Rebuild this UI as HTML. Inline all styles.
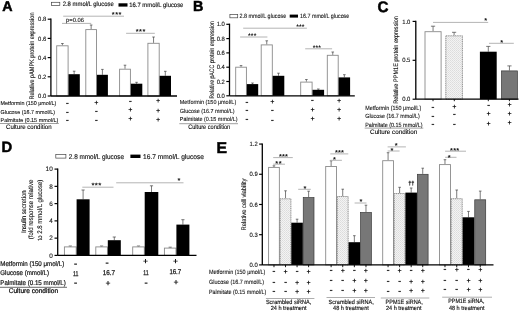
<!DOCTYPE html>
<html><head><meta charset="utf-8"><title>Figure</title>
<style>html,body{margin:0;padding:0;background:#fff;width:520px;height:312px;overflow:hidden}svg{display:block}</style>
</head><body>
<svg text-rendering="geometricPrecision" width="520" height="312" viewBox="0 0 520 312" font-family='"Liberation Sans", sans-serif' fill="#111">
<defs><pattern id="dots" width="2" height="2" patternUnits="userSpaceOnUse"><rect width="2" height="2" fill="#f3f3f3"/><rect width="1" height="1" fill="#dcdcdc"/><rect x="1" y="1" width="1" height="1" fill="#e2e2e2"/></pattern></defs>
<rect width="520" height="312" fill="#fff"/>
<text x="2.2" y="10.8" font-size="14.25" font-weight="bold" fill="#000" stroke="#000" stroke-width="0.5">A</text>
<rect x="51.6" y="2.3" width="8.2" height="3.3" fill="#fff" stroke="#444" stroke-width="0.7"/>
<text x="62.7" y="5.71" font-size="6.3" textLength="51" lengthAdjust="spacingAndGlyphs" stroke="#111" stroke-width="0.14">2.8 mmol/L glucose</text>
<rect x="118.5" y="3.3" width="9" height="3.3" fill="#000"/>
<text x="129.2" y="6.5" font-size="6.3" textLength="54.2" lengthAdjust="spacingAndGlyphs" stroke="#111" stroke-width="0.14">16.7 mmol/L glucose</text>
<line x1="50.9" y1="18.55" x2="50.9" y2="96" stroke="#000" stroke-width="1.3"/>
<line x1="47.7" y1="19.2" x2="50.9" y2="19.2" stroke="#000" stroke-width="1.17"/>
<text x="46.3" y="21.37" font-size="6.2" text-anchor="end" textLength="8.19" lengthAdjust="spacingAndGlyphs" stroke="#111" stroke-width="0.1">0.8</text>
<line x1="47.7" y1="38.4" x2="50.9" y2="38.4" stroke="#000" stroke-width="1.17"/>
<text x="46.3" y="40.57" font-size="6.2" text-anchor="end" textLength="8.19" lengthAdjust="spacingAndGlyphs" stroke="#111" stroke-width="0.1">0.6</text>
<line x1="47.7" y1="57.6" x2="50.9" y2="57.6" stroke="#000" stroke-width="1.17"/>
<text x="46.3" y="59.77" font-size="6.2" text-anchor="end" textLength="8.19" lengthAdjust="spacingAndGlyphs" stroke="#111" stroke-width="0.1">0.4</text>
<line x1="47.7" y1="76.8" x2="50.9" y2="76.8" stroke="#000" stroke-width="1.17"/>
<text x="46.3" y="78.97" font-size="6.2" text-anchor="end" textLength="8.19" lengthAdjust="spacingAndGlyphs" stroke="#111" stroke-width="0.1">0.2</text>
<line x1="47.7" y1="96" x2="50.9" y2="96" stroke="#000" stroke-width="1.17"/>
<text x="46.3" y="98.17" font-size="6.2" text-anchor="end" textLength="8.19" lengthAdjust="spacingAndGlyphs" stroke="#111" stroke-width="0.1">0.0</text>
<text transform="translate(33.58,56) rotate(-90)" font-size="6.5" text-anchor="middle" textLength="87" lengthAdjust="spacingAndGlyphs" stroke="#111" stroke-width="0.1">Relative pAMPK protein expression</text>
<line x1="62.4" y1="45.4" x2="62.4" y2="43.5" stroke="#444" stroke-width="0.7"/>
<line x1="61.1" y1="43.5" x2="63.7" y2="43.5" stroke="#444" stroke-width="0.7"/>
<rect x="56.7" y="45.8" width="11.4" height="50.2" fill="#ffffff" stroke="#8a8a8a" stroke-width="0.9"/>
<line x1="74.15" y1="74.2" x2="74.15" y2="71.2" stroke="#444" stroke-width="0.7"/>
<line x1="72.85" y1="71.2" x2="75.45" y2="71.2" stroke="#444" stroke-width="0.7"/>
<rect x="68.5" y="74.2" width="11.3" height="21.8" fill="#000000"/>
<line x1="91.15" y1="29.2" x2="91.15" y2="25" stroke="#444" stroke-width="0.7"/>
<line x1="89.85" y1="25" x2="92.45" y2="25" stroke="#444" stroke-width="0.7"/>
<rect x="85.8" y="29.6" width="10.7" height="66.4" fill="#ffffff" stroke="#8a8a8a" stroke-width="0.9"/>
<line x1="102.4" y1="74.8" x2="102.4" y2="69.4" stroke="#444" stroke-width="0.7"/>
<line x1="101.1" y1="69.4" x2="103.7" y2="69.4" stroke="#444" stroke-width="0.7"/>
<rect x="96.9" y="74.8" width="11" height="21.2" fill="#000000"/>
<line x1="125" y1="68.8" x2="125" y2="65.2" stroke="#444" stroke-width="0.7"/>
<line x1="123.7" y1="65.2" x2="126.3" y2="65.2" stroke="#444" stroke-width="0.7"/>
<rect x="119.6" y="69.2" width="10.8" height="26.8" fill="#ffffff" stroke="#8a8a8a" stroke-width="0.9"/>
<line x1="136.55" y1="83.7" x2="136.55" y2="82.3" stroke="#444" stroke-width="0.7"/>
<line x1="135.25" y1="82.3" x2="137.85" y2="82.3" stroke="#444" stroke-width="0.7"/>
<rect x="130.8" y="83.7" width="11.5" height="12.3" fill="#000000"/>
<line x1="153.55" y1="42.9" x2="153.55" y2="37" stroke="#444" stroke-width="0.7"/>
<line x1="152.25" y1="37" x2="154.85" y2="37" stroke="#444" stroke-width="0.7"/>
<rect x="147.9" y="43.3" width="11.3" height="52.7" fill="#ffffff" stroke="#8a8a8a" stroke-width="0.9"/>
<line x1="165.3" y1="75.8" x2="165.3" y2="71.3" stroke="#444" stroke-width="0.7"/>
<line x1="164" y1="71.3" x2="166.6" y2="71.3" stroke="#444" stroke-width="0.7"/>
<rect x="159.6" y="75.8" width="11.4" height="20.2" fill="#000000"/>
<line x1="50.9" y1="96" x2="177" y2="96" stroke="#000" stroke-width="1.3"/>
<line x1="63.2" y1="16.2" x2="124" y2="16.2" stroke="#b4b4b4" stroke-width="1"/>
<text x="116.6" y="17.48" font-size="7.4" font-weight="bold" text-anchor="middle" fill="#111" textLength="9.6">***</text>
<line x1="62" y1="23.4" x2="91.2" y2="23.4" stroke="#aaa" stroke-width="0.9"/>
<text x="66" y="22.37" font-size="5.9" textLength="18" lengthAdjust="spacingAndGlyphs" stroke="#111" stroke-width="0.1">p=0.06</text>
<line x1="126.1" y1="33.3" x2="154.8" y2="33.3" stroke="#b4b4b4" stroke-width="1"/>
<text x="140.5" y="34.38" font-size="7.4" font-weight="bold" text-anchor="middle" fill="#111" textLength="9.75">***</text>
<text x="0.5" y="105.26" font-size="5.6" textLength="55.7" lengthAdjust="spacingAndGlyphs" stroke="#111" stroke-width="0.1">Metformin (150 μmol/L)</text>
<text x="0.5" y="113.96" font-size="5.6" textLength="54.5" lengthAdjust="spacingAndGlyphs" stroke="#111" stroke-width="0.1">Glucose (16.7 mmol/L)</text>
<text x="0.5" y="122.26" font-size="5.6" textLength="57.8" lengthAdjust="spacingAndGlyphs" stroke="#111" stroke-width="0.1">Palmitate (0.15 mmol/L)</text>
<line x1="0" y1="123.5" x2="58.8" y2="123.5" stroke="#777" stroke-width="0.7"/>
<text x="6" y="129.14" font-size="6.4" fill="#000" textLength="45.6" lengthAdjust="spacingAndGlyphs" stroke="#000" stroke-width="0.1">Culture condition</text>
<text x="67.4" y="105.85" font-size="9.8" font-weight="bold" text-anchor="middle" fill="#333">-</text>
<text x="67.4" y="114.75" font-size="9.8" font-weight="bold" text-anchor="middle" fill="#333">-</text>
<text x="67.4" y="122.85" font-size="9.8" font-weight="bold" text-anchor="middle" fill="#333">-</text>
<text x="96.4" y="104.68" font-size="7.2" font-weight="bold" text-anchor="middle" fill="#111">+</text>
<text x="96.4" y="113.75" font-size="9.8" font-weight="bold" text-anchor="middle" fill="#333">-</text>
<text x="96.4" y="123.25" font-size="9.8" font-weight="bold" text-anchor="middle" fill="#333">-</text>
<text x="130.4" y="103.75" font-size="9.8" font-weight="bold" text-anchor="middle" fill="#333">-</text>
<text x="130.4" y="112.08" font-size="7.2" font-weight="bold" text-anchor="middle" fill="#111">+</text>
<text x="130.4" y="121.18" font-size="7.2" font-weight="bold" text-anchor="middle" fill="#111">+</text>
<text x="158" y="103.18" font-size="7.2" font-weight="bold" text-anchor="middle" fill="#111">+</text>
<text x="158" y="113.18" font-size="7.2" font-weight="bold" text-anchor="middle" fill="#111">+</text>
<text x="158" y="121.58" font-size="7.2" font-weight="bold" text-anchor="middle" fill="#111">+</text>
<text x="193" y="10.8" font-size="14.39" font-weight="bold" fill="#000" stroke="#000" stroke-width="0.5">B</text>
<rect x="229.9" y="14.6" width="7.8" height="3.2" fill="#fff" stroke="#444" stroke-width="0.7"/>
<text x="239.5" y="18.37" font-size="6.2" textLength="46.8" lengthAdjust="spacingAndGlyphs" stroke="#111" stroke-width="0.1">2.8 mmol/L glucose</text>
<rect x="289.7" y="14.6" width="8.3" height="3" fill="#000"/>
<text x="300" y="18.37" font-size="6.2" textLength="49.3" lengthAdjust="spacingAndGlyphs" stroke="#111" stroke-width="0.1">16.7 mmol/L glucose</text>
<line x1="229.5" y1="23.65" x2="229.5" y2="95.8" stroke="#000" stroke-width="1.3"/>
<line x1="226.3" y1="24.3" x2="229.5" y2="24.3" stroke="#000" stroke-width="1.17"/>
<text x="224.9" y="26.47" font-size="6.2" text-anchor="end" textLength="8.19" lengthAdjust="spacingAndGlyphs" stroke="#111" stroke-width="0.1">1.0</text>
<line x1="226.3" y1="38.6" x2="229.5" y2="38.6" stroke="#000" stroke-width="1.17"/>
<text x="224.9" y="40.77" font-size="6.2" text-anchor="end" textLength="8.19" lengthAdjust="spacingAndGlyphs" stroke="#111" stroke-width="0.1">0.8</text>
<line x1="226.3" y1="52.9" x2="229.5" y2="52.9" stroke="#000" stroke-width="1.17"/>
<text x="224.9" y="55.07" font-size="6.2" text-anchor="end" textLength="8.19" lengthAdjust="spacingAndGlyphs" stroke="#111" stroke-width="0.1">0.6</text>
<line x1="226.3" y1="67.2" x2="229.5" y2="67.2" stroke="#000" stroke-width="1.17"/>
<text x="224.9" y="69.37" font-size="6.2" text-anchor="end" textLength="8.19" lengthAdjust="spacingAndGlyphs" stroke="#111" stroke-width="0.1">0.4</text>
<line x1="226.3" y1="81.5" x2="229.5" y2="81.5" stroke="#000" stroke-width="1.17"/>
<text x="224.9" y="83.67" font-size="6.2" text-anchor="end" textLength="8.19" lengthAdjust="spacingAndGlyphs" stroke="#111" stroke-width="0.1">0.2</text>
<line x1="226.3" y1="95.8" x2="229.5" y2="95.8" stroke="#000" stroke-width="1.17"/>
<text x="224.9" y="97.97" font-size="6.2" text-anchor="end" textLength="8.19" lengthAdjust="spacingAndGlyphs" stroke="#111" stroke-width="0.1">0.0</text>
<text transform="translate(213.88,59.9) rotate(-90)" font-size="6.5" text-anchor="middle" textLength="77.5" lengthAdjust="spacingAndGlyphs" stroke="#111" stroke-width="0.1">Relative pACC protein expression</text>
<line x1="241.05" y1="66.8" x2="241.05" y2="65.6" stroke="#444" stroke-width="0.7"/>
<line x1="239.75" y1="65.6" x2="242.35" y2="65.6" stroke="#444" stroke-width="0.7"/>
<rect x="235.7" y="67.2" width="10.7" height="28.6" fill="#ffffff" stroke="#8a8a8a" stroke-width="0.9"/>
<line x1="252.5" y1="84.1" x2="252.5" y2="83" stroke="#444" stroke-width="0.7"/>
<line x1="251.2" y1="83" x2="253.8" y2="83" stroke="#444" stroke-width="0.7"/>
<rect x="246.8" y="84.1" width="11.4" height="11.7" fill="#000000"/>
<line x1="266.75" y1="44.5" x2="266.75" y2="40.8" stroke="#444" stroke-width="0.7"/>
<line x1="265.45" y1="40.8" x2="268.05" y2="40.8" stroke="#444" stroke-width="0.7"/>
<rect x="261.2" y="44.9" width="11.1" height="50.9" fill="#ffffff" stroke="#8a8a8a" stroke-width="0.9"/>
<line x1="278.5" y1="75.8" x2="278.5" y2="73.2" stroke="#444" stroke-width="0.7"/>
<line x1="277.2" y1="73.2" x2="279.8" y2="73.2" stroke="#444" stroke-width="0.7"/>
<rect x="272.7" y="75.8" width="11.6" height="20" fill="#000000"/>
<line x1="306.4" y1="81.7" x2="306.4" y2="79.5" stroke="#444" stroke-width="0.7"/>
<line x1="305.1" y1="79.5" x2="307.7" y2="79.5" stroke="#444" stroke-width="0.7"/>
<rect x="300.7" y="82.1" width="11.4" height="13.7" fill="#ffffff" stroke="#8a8a8a" stroke-width="0.9"/>
<line x1="318.3" y1="89.8" x2="318.3" y2="89" stroke="#444" stroke-width="0.7"/>
<line x1="317" y1="89" x2="319.6" y2="89" stroke="#444" stroke-width="0.7"/>
<rect x="312.5" y="89.8" width="11.6" height="6" fill="#000000"/>
<line x1="332.75" y1="54.9" x2="332.75" y2="52" stroke="#444" stroke-width="0.7"/>
<line x1="331.45" y1="52" x2="334.05" y2="52" stroke="#444" stroke-width="0.7"/>
<rect x="327.3" y="55.3" width="10.9" height="40.5" fill="#ffffff" stroke="#8a8a8a" stroke-width="0.9"/>
<line x1="344.35" y1="77.4" x2="344.35" y2="74.7" stroke="#444" stroke-width="0.7"/>
<line x1="343.05" y1="74.7" x2="345.65" y2="74.7" stroke="#444" stroke-width="0.7"/>
<rect x="338.6" y="77.4" width="11.5" height="18.4" fill="#000000"/>
<line x1="229.5" y1="95.8" x2="354.8" y2="95.8" stroke="#000" stroke-width="1.3"/>
<line x1="243.2" y1="28.2" x2="306.9" y2="28.2" stroke="#b4b4b4" stroke-width="1"/>
<text x="300.4" y="29" font-size="6.8" font-weight="bold" text-anchor="middle" fill="#111" textLength="8.25">***</text>
<line x1="240.1" y1="37" x2="267.4" y2="37" stroke="#b4b4b4" stroke-width="1"/>
<text x="252.2" y="37.7" font-size="6.8" font-weight="bold" text-anchor="middle" fill="#111" textLength="8.25">***</text>
<line x1="305.2" y1="48.8" x2="332.1" y2="48.8" stroke="#b4b4b4" stroke-width="1"/>
<text x="316.8" y="49.5" font-size="6.8" font-weight="bold" text-anchor="middle" fill="#111" textLength="8.25">***</text>
<text x="179.8" y="104.27" font-size="5.9" textLength="56.4" lengthAdjust="spacingAndGlyphs" stroke="#111" stroke-width="0.1">Metformin (150 μmol/L)</text>
<text x="179.8" y="112.56" font-size="5.9" textLength="54.8" lengthAdjust="spacingAndGlyphs" stroke="#111" stroke-width="0.1">Glucose (16.7 mmol/L)</text>
<text x="179.8" y="120.66" font-size="5.9" textLength="57.7" lengthAdjust="spacingAndGlyphs" stroke="#111" stroke-width="0.1">Palmitate (0.15 mmol/L)</text>
<line x1="179.3" y1="123.7" x2="238" y2="123.7" stroke="#777" stroke-width="0.7"/>
<text x="188.2" y="128.94" font-size="6.4" fill="#000" textLength="42" lengthAdjust="spacingAndGlyphs" stroke="#000" stroke-width="0.1">Culture condition</text>
<text x="246.9" y="104.85" font-size="9.8" font-weight="bold" text-anchor="middle" fill="#333">-</text>
<text x="246.9" y="112.95" font-size="9.8" font-weight="bold" text-anchor="middle" fill="#333">-</text>
<text x="246.9" y="121.85" font-size="9.8" font-weight="bold" text-anchor="middle" fill="#333">-</text>
<text x="272.3" y="104.28" font-size="7.2" font-weight="bold" text-anchor="middle" fill="#111">+</text>
<text x="272.3" y="113.35" font-size="9.8" font-weight="bold" text-anchor="middle" fill="#333">-</text>
<text x="272.3" y="122.85" font-size="9.8" font-weight="bold" text-anchor="middle" fill="#333">-</text>
<text x="312.5" y="102.75" font-size="9.8" font-weight="bold" text-anchor="middle" fill="#333">-</text>
<text x="312.5" y="111.68" font-size="7.2" font-weight="bold" text-anchor="middle" fill="#111">+</text>
<text x="312.5" y="120.58" font-size="7.2" font-weight="bold" text-anchor="middle" fill="#111">+</text>
<text x="339.1" y="103.08" font-size="7.2" font-weight="bold" text-anchor="middle" fill="#111">+</text>
<text x="339.1" y="112.18" font-size="7.2" font-weight="bold" text-anchor="middle" fill="#111">+</text>
<text x="339.1" y="120.58" font-size="7.2" font-weight="bold" text-anchor="middle" fill="#111">+</text>
<text x="377.4" y="11.6" font-size="15.22" font-weight="bold" fill="#000" stroke="#000" stroke-width="0.5">C</text>
<line x1="415.8" y1="20.75" x2="415.8" y2="99.2" stroke="#000" stroke-width="1.3"/>
<line x1="412.6" y1="21.4" x2="415.8" y2="21.4" stroke="#000" stroke-width="1.17"/>
<text x="410.4" y="23.57" font-size="6.2" text-anchor="end" textLength="8.19" lengthAdjust="spacingAndGlyphs" stroke="#111" stroke-width="0.1">1.0</text>
<line x1="412.6" y1="60.3" x2="415.8" y2="60.3" stroke="#000" stroke-width="1.17"/>
<text x="410.4" y="62.47" font-size="6.2" text-anchor="end" textLength="8.19" lengthAdjust="spacingAndGlyphs" stroke="#111" stroke-width="0.1">0.5</text>
<line x1="412.6" y1="99.2" x2="415.8" y2="99.2" stroke="#000" stroke-width="1.17"/>
<text x="410.4" y="101.37" font-size="6.2" text-anchor="end" textLength="8.19" lengthAdjust="spacingAndGlyphs" stroke="#111" stroke-width="0.1">0.0</text>
<text transform="translate(398.27,59.9) rotate(-90)" font-size="6.5" text-anchor="middle" textLength="87.5" lengthAdjust="spacingAndGlyphs" stroke="#111" stroke-width="0.1">Relative PPM1E protein expression</text>
<line x1="433.05" y1="31.3" x2="433.05" y2="26.2" stroke="#444" stroke-width="0.7"/>
<line x1="430.95" y1="26.2" x2="435.15" y2="26.2" stroke="#444" stroke-width="0.7"/>
<rect x="425" y="31.7" width="16.1" height="67.5" fill="#ffffff" stroke="#8a8a8a" stroke-width="0.9"/>
<line x1="454.1" y1="35.4" x2="454.1" y2="32.3" stroke="#444" stroke-width="0.7"/>
<line x1="452" y1="32.3" x2="456.2" y2="32.3" stroke="#444" stroke-width="0.7"/>
<rect x="445.8" y="35.8" width="16.6" height="63.4" fill="url(#dots)" stroke="#666" stroke-width="0.7" stroke-dasharray="1.2 0.6"/>
<line x1="488.3" y1="51.7" x2="488.3" y2="46.4" stroke="#444" stroke-width="0.7"/>
<line x1="486.2" y1="46.4" x2="490.4" y2="46.4" stroke="#444" stroke-width="0.7"/>
<rect x="479.9" y="51.7" width="16.8" height="47.5" fill="#000000"/>
<line x1="509.45" y1="70.5" x2="509.45" y2="65.9" stroke="#444" stroke-width="0.7"/>
<line x1="507.35" y1="65.9" x2="511.55" y2="65.9" stroke="#444" stroke-width="0.7"/>
<rect x="501.5" y="70.9" width="15.9" height="28.3" fill="#777777" stroke="#3a3a3a" stroke-width="0.7"/>
<line x1="415.8" y1="99.2" x2="518.5" y2="99.2" stroke="#000" stroke-width="1.3"/>
<line x1="433" y1="99.2" x2="433" y2="101.2" stroke="#000" stroke-width="0.9"/>
<line x1="454.3" y1="99.2" x2="454.3" y2="101.2" stroke="#000" stroke-width="0.9"/>
<line x1="488.3" y1="99.2" x2="488.3" y2="101.2" stroke="#000" stroke-width="0.9"/>
<line x1="509.4" y1="99.2" x2="509.4" y2="101.2" stroke="#000" stroke-width="0.9"/>
<line x1="433" y1="22.4" x2="488.2" y2="22.4" stroke="#b4b4b4" stroke-width="1"/>
<text x="485.6" y="23.38" font-size="7.4" font-weight="bold" text-anchor="middle" fill="#111">*</text>
<line x1="489" y1="43.3" x2="513.8" y2="43.3" stroke="#b4b4b4" stroke-width="1"/>
<text x="501.8" y="44.98" font-size="7.4" font-weight="bold" text-anchor="middle" fill="#111">*</text>
<text x="365.2" y="109.6" font-size="6" textLength="56" lengthAdjust="spacingAndGlyphs" stroke="#111" stroke-width="0.1">Metformin (150 μmol/L)</text>
<text x="365.2" y="118" font-size="6" textLength="54.5" lengthAdjust="spacingAndGlyphs" stroke="#111" stroke-width="0.1">Glucose (16.7 mmol/L)</text>
<text x="365.2" y="126.7" font-size="6" textLength="57.5" lengthAdjust="spacingAndGlyphs" stroke="#111" stroke-width="0.1">Palmitate (0.15 mmol/L)</text>
<line x1="364.7" y1="128.1" x2="423.3" y2="128.1" stroke="#777" stroke-width="0.7"/>
<text x="370.1" y="133.84" font-size="6.4" fill="#000" textLength="47.1" lengthAdjust="spacingAndGlyphs" stroke="#000" stroke-width="0.1">Culture condition</text>
<text x="432.9" y="110.25" font-size="9.8" font-weight="bold" text-anchor="middle" fill="#333">-</text>
<text x="432.9" y="118.65" font-size="9.8" font-weight="bold" text-anchor="middle" fill="#333">-</text>
<text x="432.9" y="126.85" font-size="9.8" font-weight="bold" text-anchor="middle" fill="#333">-</text>
<text x="454.3" y="109.28" font-size="7.2" font-weight="bold" text-anchor="middle" fill="#111">+</text>
<text x="454.3" y="117.15" font-size="9.8" font-weight="bold" text-anchor="middle" fill="#333">-</text>
<text x="454.3" y="127.25" font-size="9.8" font-weight="bold" text-anchor="middle" fill="#333">-</text>
<text x="488.6" y="108.05" font-size="9.8" font-weight="bold" text-anchor="middle" fill="#333">-</text>
<text x="488.6" y="116.08" font-size="7.2" font-weight="bold" text-anchor="middle" fill="#111">+</text>
<text x="488.6" y="125.58" font-size="7.2" font-weight="bold" text-anchor="middle" fill="#111">+</text>
<text x="509.5" y="106.98" font-size="7.2" font-weight="bold" text-anchor="middle" fill="#111">+</text>
<text x="509.5" y="116.08" font-size="7.2" font-weight="bold" text-anchor="middle" fill="#111">+</text>
<text x="509.5" y="124.68" font-size="7.2" font-weight="bold" text-anchor="middle" fill="#111">+</text>
<text x="1.6" y="152.4" font-size="14.8" font-weight="bold" fill="#000" stroke="#000" stroke-width="0.5">D</text>
<rect x="55.8" y="154.6" width="10.1" height="3.5" fill="#fff" stroke="#444" stroke-width="0.7"/>
<text x="68.8" y="158.78" font-size="6.8" textLength="55.2" lengthAdjust="spacingAndGlyphs" stroke="#111" stroke-width="0.14">2.8 mmol/L glucose</text>
<rect x="130.4" y="154.6" width="10.1" height="3.4" fill="#000"/>
<text x="143.1" y="158.78" font-size="6.8" textLength="60.9" lengthAdjust="spacingAndGlyphs" stroke="#111" stroke-width="0.14">16.7 mmol/L glucose</text>
<line x1="57.7" y1="168.45" x2="57.7" y2="255.4" stroke="#000" stroke-width="1.3"/>
<line x1="54.5" y1="169.1" x2="57.7" y2="169.1" stroke="#000" stroke-width="1.17"/>
<text x="52.7" y="171.34" font-size="6.4" text-anchor="end" textLength="7.12" lengthAdjust="spacingAndGlyphs" stroke="#111" stroke-width="0.1">10</text>
<line x1="54.5" y1="186.36" x2="57.7" y2="186.36" stroke="#000" stroke-width="1.17"/>
<text x="52.7" y="188.6" font-size="6.4" text-anchor="end" textLength="3.56" lengthAdjust="spacingAndGlyphs" stroke="#111" stroke-width="0.1">8</text>
<line x1="54.5" y1="203.62" x2="57.7" y2="203.62" stroke="#000" stroke-width="1.17"/>
<text x="52.7" y="205.86" font-size="6.4" text-anchor="end" textLength="3.56" lengthAdjust="spacingAndGlyphs" stroke="#111" stroke-width="0.1">6</text>
<line x1="54.5" y1="220.88" x2="57.7" y2="220.88" stroke="#000" stroke-width="1.17"/>
<text x="52.7" y="223.12" font-size="6.4" text-anchor="end" textLength="3.56" lengthAdjust="spacingAndGlyphs" stroke="#111" stroke-width="0.1">4</text>
<line x1="54.5" y1="238.14" x2="57.7" y2="238.14" stroke="#000" stroke-width="1.17"/>
<text x="52.7" y="240.38" font-size="6.4" text-anchor="end" textLength="3.56" lengthAdjust="spacingAndGlyphs" stroke="#111" stroke-width="0.1">2</text>
<line x1="54.5" y1="255.4" x2="57.7" y2="255.4" stroke="#000" stroke-width="1.17"/>
<text x="52.7" y="257.64" font-size="6.4" text-anchor="end" textLength="3.56" lengthAdjust="spacingAndGlyphs" stroke="#111" stroke-width="0.1">0</text>
<text transform="translate(25.64,211.7) rotate(-90)" font-size="6.7" text-anchor="middle" textLength="42.5" lengthAdjust="spacingAndGlyphs" stroke="#111" stroke-width="0.1">Insulin secretion</text>
<text transform="translate(33.45,209.4) rotate(-90)" font-size="6.7" text-anchor="middle" textLength="59.5" lengthAdjust="spacingAndGlyphs" stroke="#111" stroke-width="0.1">(fold response relative</text>
<text transform="translate(41.74,210.1) rotate(-90)" font-size="6.7" text-anchor="middle" textLength="60.8" lengthAdjust="spacingAndGlyphs" stroke="#111" stroke-width="0.1">to 2.8 mmol/L glucose)</text>
<line x1="70.3" y1="246.5" x2="70.3" y2="246" stroke="#444" stroke-width="0.7"/>
<line x1="68.7" y1="246" x2="71.9" y2="246" stroke="#444" stroke-width="0.7"/>
<rect x="64.4" y="246.9" width="11.8" height="8.5" fill="#ffffff" stroke="#8a8a8a" stroke-width="0.9"/>
<line x1="83.1" y1="199.3" x2="83.1" y2="190" stroke="#444" stroke-width="0.7"/>
<line x1="81.5" y1="190" x2="84.7" y2="190" stroke="#444" stroke-width="0.7"/>
<rect x="76.6" y="199.3" width="13" height="56.1" fill="#000000"/>
<line x1="101.6" y1="246.5" x2="101.6" y2="246" stroke="#444" stroke-width="0.7"/>
<line x1="100" y1="246" x2="103.2" y2="246" stroke="#444" stroke-width="0.7"/>
<rect x="95.8" y="246.9" width="11.6" height="8.5" fill="#ffffff" stroke="#8a8a8a" stroke-width="0.9"/>
<line x1="114.3" y1="240.2" x2="114.3" y2="237" stroke="#444" stroke-width="0.7"/>
<line x1="112.7" y1="237" x2="115.9" y2="237" stroke="#444" stroke-width="0.7"/>
<rect x="107.8" y="240.2" width="13" height="15.2" fill="#000000"/>
<line x1="138.5" y1="246.5" x2="138.5" y2="246" stroke="#444" stroke-width="0.7"/>
<line x1="136.9" y1="246" x2="140.1" y2="246" stroke="#444" stroke-width="0.7"/>
<rect x="132.7" y="246.9" width="11.6" height="8.5" fill="#ffffff" stroke="#8a8a8a" stroke-width="0.9"/>
<line x1="151.5" y1="192" x2="151.5" y2="185.8" stroke="#444" stroke-width="0.7"/>
<line x1="149.9" y1="185.8" x2="153.1" y2="185.8" stroke="#444" stroke-width="0.7"/>
<rect x="144.7" y="192" width="13.6" height="63.4" fill="#000000"/>
<line x1="170.2" y1="247.7" x2="170.2" y2="247.2" stroke="#444" stroke-width="0.7"/>
<line x1="168.6" y1="247.2" x2="171.8" y2="247.2" stroke="#444" stroke-width="0.7"/>
<rect x="164.4" y="248.1" width="11.6" height="7.3" fill="#ffffff" stroke="#8a8a8a" stroke-width="0.9"/>
<line x1="182.9" y1="224.6" x2="182.9" y2="219.7" stroke="#444" stroke-width="0.7"/>
<line x1="181.3" y1="219.7" x2="184.5" y2="219.7" stroke="#444" stroke-width="0.7"/>
<rect x="176.4" y="224.6" width="13" height="30.8" fill="#000000"/>
<line x1="57.7" y1="255.4" x2="196.5" y2="255.4" stroke="#000" stroke-width="1.3"/>
<line x1="82.3" y1="187.2" x2="113.5" y2="187.2" stroke="#b4b4b4" stroke-width="1"/>
<text x="96.3" y="187.87" font-size="7.8" font-weight="bold" text-anchor="middle" fill="#111" textLength="9.75">***</text>
<line x1="116.2" y1="182.8" x2="183.5" y2="182.8" stroke="#b4b4b4" stroke-width="1"/>
<text x="179" y="183.48" font-size="7.4" font-weight="bold" text-anchor="middle" fill="#111">*</text>
<text x="0.3" y="266.18" font-size="6.8" textLength="63.9" lengthAdjust="spacingAndGlyphs" stroke="#111" stroke-width="0.2">Metformin (150 μmol/L)</text>
<text x="0.3" y="275.38" font-size="6.8" textLength="48.7" lengthAdjust="spacingAndGlyphs" stroke="#111" stroke-width="0.2">Glucose (mmol/L)</text>
<text x="0.3" y="285.28" font-size="6.8" textLength="65.5" lengthAdjust="spacingAndGlyphs" stroke="#111" stroke-width="0.2">Palmitate (0.15 mmol/L)</text>
<line x1="0" y1="287.3" x2="67" y2="287.3" stroke="#444" stroke-width="0.8"/>
<text x="8.7" y="293.18" font-size="6.8" fill="#000" textLength="49.4" lengthAdjust="spacingAndGlyphs" stroke="#000" stroke-width="0.2">Culture condition</text>
<text x="75.7" y="266.96" font-size="11" font-weight="bold" text-anchor="middle" fill="#333">-</text>
<text x="107.1" y="266.46" font-size="11" font-weight="bold" text-anchor="middle" fill="#333">-</text>
<text x="145.4" y="263.84" font-size="8.6" font-weight="bold" text-anchor="middle" fill="#111">+</text>
<text x="175.5" y="263.94" font-size="8.6" font-weight="bold" text-anchor="middle" fill="#111">+</text>
<text x="73" y="275.75" font-size="7" textLength="5.4" lengthAdjust="spacingAndGlyphs" stroke="#111" stroke-width="0.25">11</text>
<text x="102.8" y="274.85" font-size="7" textLength="12.2" lengthAdjust="spacingAndGlyphs" stroke="#111" stroke-width="0.25">16.7</text>
<text x="143.2" y="274.85" font-size="7" textLength="5.4" lengthAdjust="spacingAndGlyphs" stroke="#111" stroke-width="0.25">11</text>
<text x="169.4" y="274.35" font-size="7" textLength="11.7" lengthAdjust="spacingAndGlyphs" stroke="#111" stroke-width="0.25">16.7</text>
<text x="75.7" y="286.06" font-size="11" font-weight="bold" text-anchor="middle" fill="#333">-</text>
<text x="108" y="285.84" font-size="8.6" font-weight="bold" text-anchor="middle" fill="#111">+</text>
<text x="146.2" y="286.06" font-size="11" font-weight="bold" text-anchor="middle" fill="#333">-</text>
<text x="175.9" y="285.14" font-size="8.6" font-weight="bold" text-anchor="middle" fill="#111">+</text>
<text x="216.5" y="153" font-size="15.78" font-weight="bold" fill="#000" stroke="#000" stroke-width="0.5">E</text>
<line x1="262.3" y1="143.41" x2="262.3" y2="264.9" stroke="#000" stroke-width="1.3"/>
<line x1="259.1" y1="144.06" x2="262.3" y2="144.06" stroke="#000" stroke-width="1.17"/>
<text x="257.7" y="146.23" font-size="6.2" text-anchor="end" textLength="8.19" lengthAdjust="spacingAndGlyphs" stroke="#111" stroke-width="0.1">1.2</text>
<line x1="259.1" y1="174.27" x2="262.3" y2="174.27" stroke="#000" stroke-width="1.17"/>
<text x="257.7" y="176.44" font-size="6.2" text-anchor="end" textLength="8.19" lengthAdjust="spacingAndGlyphs" stroke="#111" stroke-width="0.1">0.9</text>
<line x1="259.1" y1="204.48" x2="262.3" y2="204.48" stroke="#000" stroke-width="1.17"/>
<text x="257.7" y="206.65" font-size="6.2" text-anchor="end" textLength="8.19" lengthAdjust="spacingAndGlyphs" stroke="#111" stroke-width="0.1">0.6</text>
<line x1="259.1" y1="234.69" x2="262.3" y2="234.69" stroke="#000" stroke-width="1.17"/>
<text x="257.7" y="236.86" font-size="6.2" text-anchor="end" textLength="8.19" lengthAdjust="spacingAndGlyphs" stroke="#111" stroke-width="0.1">0.3</text>
<line x1="259.1" y1="264.9" x2="262.3" y2="264.9" stroke="#000" stroke-width="1.17"/>
<text x="257.7" y="267.07" font-size="6.2" text-anchor="end" textLength="8.19" lengthAdjust="spacingAndGlyphs" stroke="#111" stroke-width="0.1">0.0</text>
<text transform="translate(246.08,204.5) rotate(-90)" font-size="6.5" text-anchor="middle" textLength="52" lengthAdjust="spacingAndGlyphs" stroke="#111" stroke-width="0.1">Relative cell viability</text>
<line x1="273.98" y1="167" x2="273.98" y2="165.8" stroke="#444" stroke-width="0.7"/>
<line x1="272.68" y1="165.8" x2="275.28" y2="165.8" stroke="#444" stroke-width="0.7"/>
<rect x="268.6" y="167.4" width="10.75" height="97.5" fill="#ffffff" stroke="#8a8a8a" stroke-width="0.9"/>
<line x1="285.52" y1="198.4" x2="285.52" y2="190.8" stroke="#444" stroke-width="0.7"/>
<line x1="284.22" y1="190.8" x2="286.82" y2="190.8" stroke="#444" stroke-width="0.7"/>
<rect x="280.15" y="198.8" width="10.75" height="66.1" fill="url(#dots)" stroke="#666" stroke-width="0.7" stroke-dasharray="1.2 0.6"/>
<line x1="297.08" y1="222.7" x2="297.08" y2="219.2" stroke="#444" stroke-width="0.7"/>
<line x1="295.78" y1="219.2" x2="298.38" y2="219.2" stroke="#444" stroke-width="0.7"/>
<rect x="291.3" y="222.7" width="11.55" height="42.2" fill="#000000"/>
<line x1="308.62" y1="197.2" x2="308.62" y2="191.2" stroke="#444" stroke-width="0.7"/>
<line x1="307.32" y1="191.2" x2="309.93" y2="191.2" stroke="#444" stroke-width="0.7"/>
<rect x="303.25" y="197.6" width="10.75" height="67.3" fill="#777777" stroke="#3a3a3a" stroke-width="0.7"/>
<line x1="331.11" y1="166.1" x2="331.11" y2="160.8" stroke="#444" stroke-width="0.7"/>
<line x1="329.81" y1="160.8" x2="332.41" y2="160.8" stroke="#444" stroke-width="0.7"/>
<rect x="325.7" y="166.5" width="10.82" height="98.4" fill="#ffffff" stroke="#8a8a8a" stroke-width="0.9"/>
<line x1="342.73" y1="196.1" x2="342.73" y2="189.2" stroke="#444" stroke-width="0.7"/>
<line x1="341.43" y1="189.2" x2="344.03" y2="189.2" stroke="#444" stroke-width="0.7"/>
<rect x="337.32" y="196.5" width="10.82" height="68.4" fill="url(#dots)" stroke="#666" stroke-width="0.7" stroke-dasharray="1.2 0.6"/>
<line x1="354.35" y1="242.2" x2="354.35" y2="235.7" stroke="#444" stroke-width="0.7"/>
<line x1="353.05" y1="235.7" x2="355.65" y2="235.7" stroke="#444" stroke-width="0.7"/>
<rect x="348.54" y="242.2" width="11.62" height="22.7" fill="#000000"/>
<line x1="365.97" y1="212.1" x2="365.97" y2="205.2" stroke="#444" stroke-width="0.7"/>
<line x1="364.67" y1="205.2" x2="367.27" y2="205.2" stroke="#444" stroke-width="0.7"/>
<rect x="360.56" y="212.5" width="10.82" height="52.4" fill="#777777" stroke="#3a3a3a" stroke-width="0.7"/>
<line x1="388.08" y1="160.3" x2="388.08" y2="152.7" stroke="#444" stroke-width="0.7"/>
<line x1="386.78" y1="152.7" x2="389.38" y2="152.7" stroke="#444" stroke-width="0.7"/>
<rect x="382.7" y="160.7" width="10.75" height="104.2" fill="#ffffff" stroke="#8a8a8a" stroke-width="0.9"/>
<line x1="399.62" y1="193.1" x2="399.62" y2="187.3" stroke="#444" stroke-width="0.7"/>
<line x1="398.32" y1="187.3" x2="400.93" y2="187.3" stroke="#444" stroke-width="0.7"/>
<rect x="394.25" y="193.5" width="10.75" height="71.4" fill="url(#dots)" stroke="#666" stroke-width="0.7" stroke-dasharray="1.2 0.6"/>
<line x1="411.18" y1="192.6" x2="411.18" y2="188" stroke="#444" stroke-width="0.7"/>
<line x1="409.88" y1="188" x2="412.48" y2="188" stroke="#444" stroke-width="0.7"/>
<rect x="405.4" y="192.6" width="11.55" height="72.3" fill="#000000"/>
<line x1="422.73" y1="173.9" x2="422.73" y2="168.2" stroke="#444" stroke-width="0.7"/>
<line x1="421.43" y1="168.2" x2="424.03" y2="168.2" stroke="#444" stroke-width="0.7"/>
<rect x="417.35" y="174.3" width="10.75" height="90.6" fill="#777777" stroke="#3a3a3a" stroke-width="0.7"/>
<line x1="444.98" y1="164.2" x2="444.98" y2="159.7" stroke="#444" stroke-width="0.7"/>
<line x1="443.68" y1="159.7" x2="446.28" y2="159.7" stroke="#444" stroke-width="0.7"/>
<rect x="439.5" y="164.6" width="10.95" height="100.3" fill="#ffffff" stroke="#8a8a8a" stroke-width="0.9"/>
<line x1="456.73" y1="198.3" x2="456.73" y2="190" stroke="#444" stroke-width="0.7"/>
<line x1="455.43" y1="190" x2="458.03" y2="190" stroke="#444" stroke-width="0.7"/>
<rect x="451.25" y="198.7" width="10.95" height="66.2" fill="url(#dots)" stroke="#666" stroke-width="0.7" stroke-dasharray="1.2 0.6"/>
<line x1="468.48" y1="217.3" x2="468.48" y2="211.4" stroke="#444" stroke-width="0.7"/>
<line x1="467.18" y1="211.4" x2="469.78" y2="211.4" stroke="#444" stroke-width="0.7"/>
<rect x="462.6" y="217.3" width="11.75" height="47.6" fill="#000000"/>
<line x1="480.23" y1="199.4" x2="480.23" y2="191.1" stroke="#444" stroke-width="0.7"/>
<line x1="478.93" y1="191.1" x2="481.53" y2="191.1" stroke="#444" stroke-width="0.7"/>
<rect x="474.75" y="199.8" width="10.95" height="65.1" fill="#777777" stroke="#3a3a3a" stroke-width="0.7"/>
<line x1="262.3" y1="264.9" x2="493.5" y2="264.9" stroke="#000" stroke-width="1.3"/>
<line x1="273.97" y1="264.9" x2="273.97" y2="267.2" stroke="#000" stroke-width="0.9"/>
<line x1="285.52" y1="264.9" x2="285.52" y2="267.2" stroke="#000" stroke-width="0.9"/>
<line x1="297.07" y1="264.9" x2="297.07" y2="267.2" stroke="#000" stroke-width="0.9"/>
<line x1="308.62" y1="264.9" x2="308.62" y2="267.2" stroke="#000" stroke-width="0.9"/>
<line x1="331.11" y1="264.9" x2="331.11" y2="267.2" stroke="#000" stroke-width="0.9"/>
<line x1="342.73" y1="264.9" x2="342.73" y2="267.2" stroke="#000" stroke-width="0.9"/>
<line x1="354.35" y1="264.9" x2="354.35" y2="267.2" stroke="#000" stroke-width="0.9"/>
<line x1="365.97" y1="264.9" x2="365.97" y2="267.2" stroke="#000" stroke-width="0.9"/>
<line x1="388.07" y1="264.9" x2="388.07" y2="267.2" stroke="#000" stroke-width="0.9"/>
<line x1="399.62" y1="264.9" x2="399.62" y2="267.2" stroke="#000" stroke-width="0.9"/>
<line x1="411.18" y1="264.9" x2="411.18" y2="267.2" stroke="#000" stroke-width="0.9"/>
<line x1="422.73" y1="264.9" x2="422.73" y2="267.2" stroke="#000" stroke-width="0.9"/>
<line x1="444.98" y1="264.9" x2="444.98" y2="267.2" stroke="#000" stroke-width="0.9"/>
<line x1="456.73" y1="264.9" x2="456.73" y2="267.2" stroke="#000" stroke-width="0.9"/>
<line x1="468.48" y1="264.9" x2="468.48" y2="267.2" stroke="#000" stroke-width="0.9"/>
<line x1="480.23" y1="264.9" x2="480.23" y2="267.2" stroke="#000" stroke-width="0.9"/>
<line x1="273.2" y1="157.6" x2="292.8" y2="157.6" stroke="#b4b4b4" stroke-width="1"/>
<text x="283.5" y="158.88" font-size="7.4" font-weight="bold" text-anchor="middle" fill="#111" textLength="8.85">***</text>
<line x1="273.2" y1="164.2" x2="285" y2="164.2" stroke="#b4b4b4" stroke-width="1"/>
<text x="278.5" y="166.08" font-size="7.4" font-weight="bold" text-anchor="middle" fill="#111" textLength="6.4">**</text>
<line x1="298.2" y1="189.3" x2="310.8" y2="189.3" stroke="#b4b4b4" stroke-width="1"/>
<text x="304.9" y="190.68" font-size="7.4" font-weight="bold" text-anchor="middle" fill="#111">*</text>
<line x1="330.3" y1="153.9" x2="348.3" y2="153.9" stroke="#b4b4b4" stroke-width="1"/>
<text x="339.4" y="154.88" font-size="7.4" font-weight="bold" text-anchor="middle" fill="#111" textLength="8.85">***</text>
<line x1="330.3" y1="160.3" x2="341.9" y2="160.3" stroke="#b4b4b4" stroke-width="1"/>
<text x="334.5" y="162.08" font-size="7.4" font-weight="bold" text-anchor="middle" fill="#111">*</text>
<line x1="354.6" y1="203" x2="366.5" y2="203" stroke="#b4b4b4" stroke-width="1"/>
<text x="361" y="204.08" font-size="7.4" font-weight="bold" text-anchor="middle" fill="#111">*</text>
<line x1="387.6" y1="146.9" x2="405.9" y2="146.9" stroke="#b4b4b4" stroke-width="1"/>
<text x="396.2" y="148.48" font-size="7.4" font-weight="bold" text-anchor="middle" fill="#111">*</text>
<line x1="387.6" y1="151" x2="399.6" y2="151" stroke="#b4b4b4" stroke-width="1"/>
<text x="392" y="153.48" font-size="7.4" font-weight="bold" text-anchor="middle" fill="#111">*</text>
<text x="411.3" y="185.45" font-size="5.6" font-weight="bold" text-anchor="middle" stroke="#111" stroke-width="0.2">††</text>
<line x1="445.1" y1="151.2" x2="466" y2="151.2" stroke="#b4b4b4" stroke-width="1"/>
<text x="454.6" y="153.08" font-size="7.4" font-weight="bold" text-anchor="middle" fill="#111" textLength="9.3">***</text>
<line x1="445.1" y1="157.3" x2="456.5" y2="157.3" stroke="#b4b4b4" stroke-width="1"/>
<text x="449.1" y="159.68" font-size="7.4" font-weight="bold" text-anchor="middle" fill="#111">*</text>
<text x="209" y="274.27" font-size="6.2" textLength="56.4" lengthAdjust="spacingAndGlyphs" stroke="#111" stroke-width="0.1">Metformin (150 μmol/L)</text>
<text x="209" y="283.97" font-size="6.2" textLength="55" lengthAdjust="spacingAndGlyphs" stroke="#111" stroke-width="0.1">Glucose (16.7 mmol/L)</text>
<text x="209" y="293.87" font-size="6.2" textLength="57.3" lengthAdjust="spacingAndGlyphs" stroke="#111" stroke-width="0.1">Palmitate (0.15 mmol/L)</text>
<text x="273.97" y="274.25" font-size="9.8" font-weight="bold" text-anchor="middle" fill="#333">-</text>
<text x="285.52" y="274.08" font-size="7.2" font-weight="bold" text-anchor="middle" fill="#111">+</text>
<text x="297.07" y="274.25" font-size="9.8" font-weight="bold" text-anchor="middle" fill="#333">-</text>
<text x="308.62" y="274.08" font-size="7.2" font-weight="bold" text-anchor="middle" fill="#111">+</text>
<text x="273.97" y="284.85" font-size="9.8" font-weight="bold" text-anchor="middle" fill="#333">-</text>
<text x="285.52" y="284.85" font-size="9.8" font-weight="bold" text-anchor="middle" fill="#333">-</text>
<text x="297.07" y="284.68" font-size="7.2" font-weight="bold" text-anchor="middle" fill="#111">+</text>
<text x="308.62" y="284.68" font-size="7.2" font-weight="bold" text-anchor="middle" fill="#111">+</text>
<text x="273.97" y="294.25" font-size="9.8" font-weight="bold" text-anchor="middle" fill="#333">-</text>
<text x="285.52" y="294.25" font-size="9.8" font-weight="bold" text-anchor="middle" fill="#333">-</text>
<text x="297.07" y="294.08" font-size="7.2" font-weight="bold" text-anchor="middle" fill="#111">+</text>
<text x="308.62" y="294.08" font-size="7.2" font-weight="bold" text-anchor="middle" fill="#111">+</text>
<text x="331.11" y="273.35" font-size="9.8" font-weight="bold" text-anchor="middle" fill="#333">-</text>
<text x="342.73" y="273.18" font-size="7.2" font-weight="bold" text-anchor="middle" fill="#111">+</text>
<text x="354.35" y="273.35" font-size="9.8" font-weight="bold" text-anchor="middle" fill="#333">-</text>
<text x="365.97" y="273.18" font-size="7.2" font-weight="bold" text-anchor="middle" fill="#111">+</text>
<text x="331.11" y="283.05" font-size="9.8" font-weight="bold" text-anchor="middle" fill="#333">-</text>
<text x="342.73" y="283.05" font-size="9.8" font-weight="bold" text-anchor="middle" fill="#333">-</text>
<text x="354.35" y="282.88" font-size="7.2" font-weight="bold" text-anchor="middle" fill="#111">+</text>
<text x="365.97" y="282.88" font-size="7.2" font-weight="bold" text-anchor="middle" fill="#111">+</text>
<text x="331.11" y="292.75" font-size="9.8" font-weight="bold" text-anchor="middle" fill="#333">-</text>
<text x="342.73" y="292.75" font-size="9.8" font-weight="bold" text-anchor="middle" fill="#333">-</text>
<text x="354.35" y="292.58" font-size="7.2" font-weight="bold" text-anchor="middle" fill="#111">+</text>
<text x="365.97" y="292.58" font-size="7.2" font-weight="bold" text-anchor="middle" fill="#111">+</text>
<text x="388.07" y="273.45" font-size="9.8" font-weight="bold" text-anchor="middle" fill="#333">-</text>
<text x="399.62" y="273.28" font-size="7.2" font-weight="bold" text-anchor="middle" fill="#111">+</text>
<text x="411.18" y="273.45" font-size="9.8" font-weight="bold" text-anchor="middle" fill="#333">-</text>
<text x="422.73" y="273.28" font-size="7.2" font-weight="bold" text-anchor="middle" fill="#111">+</text>
<text x="388.07" y="284.35" font-size="9.8" font-weight="bold" text-anchor="middle" fill="#333">-</text>
<text x="399.62" y="284.35" font-size="9.8" font-weight="bold" text-anchor="middle" fill="#333">-</text>
<text x="411.18" y="284.18" font-size="7.2" font-weight="bold" text-anchor="middle" fill="#111">+</text>
<text x="422.73" y="284.18" font-size="7.2" font-weight="bold" text-anchor="middle" fill="#111">+</text>
<text x="388.07" y="293.55" font-size="9.8" font-weight="bold" text-anchor="middle" fill="#333">-</text>
<text x="399.62" y="293.55" font-size="9.8" font-weight="bold" text-anchor="middle" fill="#333">-</text>
<text x="411.18" y="293.38" font-size="7.2" font-weight="bold" text-anchor="middle" fill="#111">+</text>
<text x="422.73" y="293.38" font-size="7.2" font-weight="bold" text-anchor="middle" fill="#111">+</text>
<text x="444.98" y="271.85" font-size="9.8" font-weight="bold" text-anchor="middle" fill="#333">-</text>
<text x="456.73" y="271.68" font-size="7.2" font-weight="bold" text-anchor="middle" fill="#111">+</text>
<text x="468.48" y="271.85" font-size="9.8" font-weight="bold" text-anchor="middle" fill="#333">-</text>
<text x="480.23" y="271.68" font-size="7.2" font-weight="bold" text-anchor="middle" fill="#111">+</text>
<text x="444.98" y="282.95" font-size="9.8" font-weight="bold" text-anchor="middle" fill="#333">-</text>
<text x="456.73" y="282.95" font-size="9.8" font-weight="bold" text-anchor="middle" fill="#333">-</text>
<text x="468.48" y="282.78" font-size="7.2" font-weight="bold" text-anchor="middle" fill="#111">+</text>
<text x="480.23" y="282.78" font-size="7.2" font-weight="bold" text-anchor="middle" fill="#111">+</text>
<text x="444.98" y="292.35" font-size="9.8" font-weight="bold" text-anchor="middle" fill="#333">-</text>
<text x="456.73" y="292.35" font-size="9.8" font-weight="bold" text-anchor="middle" fill="#333">-</text>
<text x="468.48" y="292.18" font-size="7.2" font-weight="bold" text-anchor="middle" fill="#111">+</text>
<text x="480.23" y="292.18" font-size="7.2" font-weight="bold" text-anchor="middle" fill="#111">+</text>
<line x1="265.9" y1="298.5" x2="314.4" y2="298.5" stroke="#999" stroke-width="0.8"/>
<text x="265.9" y="304.13" font-size="6.1" textLength="45.3" lengthAdjust="spacingAndGlyphs" stroke="#111" stroke-width="0.15">Scrambled siRNA,</text>
<text x="270.7" y="310.44" font-size="6.1" textLength="35.9" lengthAdjust="spacingAndGlyphs" stroke="#111" stroke-width="0.15">24 h treatment</text>
<line x1="326.5" y1="297.5" x2="375" y2="297.5" stroke="#999" stroke-width="0.8"/>
<text x="328.5" y="303.53" font-size="6.1" textLength="45.2" lengthAdjust="spacingAndGlyphs" stroke="#111" stroke-width="0.15">Scrambled siRNA,</text>
<text x="333.1" y="309.63" font-size="6.1" textLength="35.7" lengthAdjust="spacingAndGlyphs" stroke="#111" stroke-width="0.15">48 h treatment</text>
<line x1="380.8" y1="298" x2="429.3" y2="298" stroke="#999" stroke-width="0.8"/>
<text x="385.6" y="304.03" font-size="6.1" textLength="37.2" lengthAdjust="spacingAndGlyphs" stroke="#111" stroke-width="0.15">PPM1E siRNA,</text>
<text x="386" y="310.13" font-size="6.1" textLength="35.5" lengthAdjust="spacingAndGlyphs" stroke="#111" stroke-width="0.15">24 h treatment</text>
<line x1="442.2" y1="297.2" x2="492" y2="297.2" stroke="#999" stroke-width="0.8"/>
<text x="448.3" y="302.74" font-size="6.1" textLength="36.1" lengthAdjust="spacingAndGlyphs" stroke="#111" stroke-width="0.15">PPM1E siRNA,</text>
<text x="448.9" y="309.53" font-size="6.1" textLength="35.7" lengthAdjust="spacingAndGlyphs" stroke="#111" stroke-width="0.15">48 h treatment</text>
</svg>
</body></html>
